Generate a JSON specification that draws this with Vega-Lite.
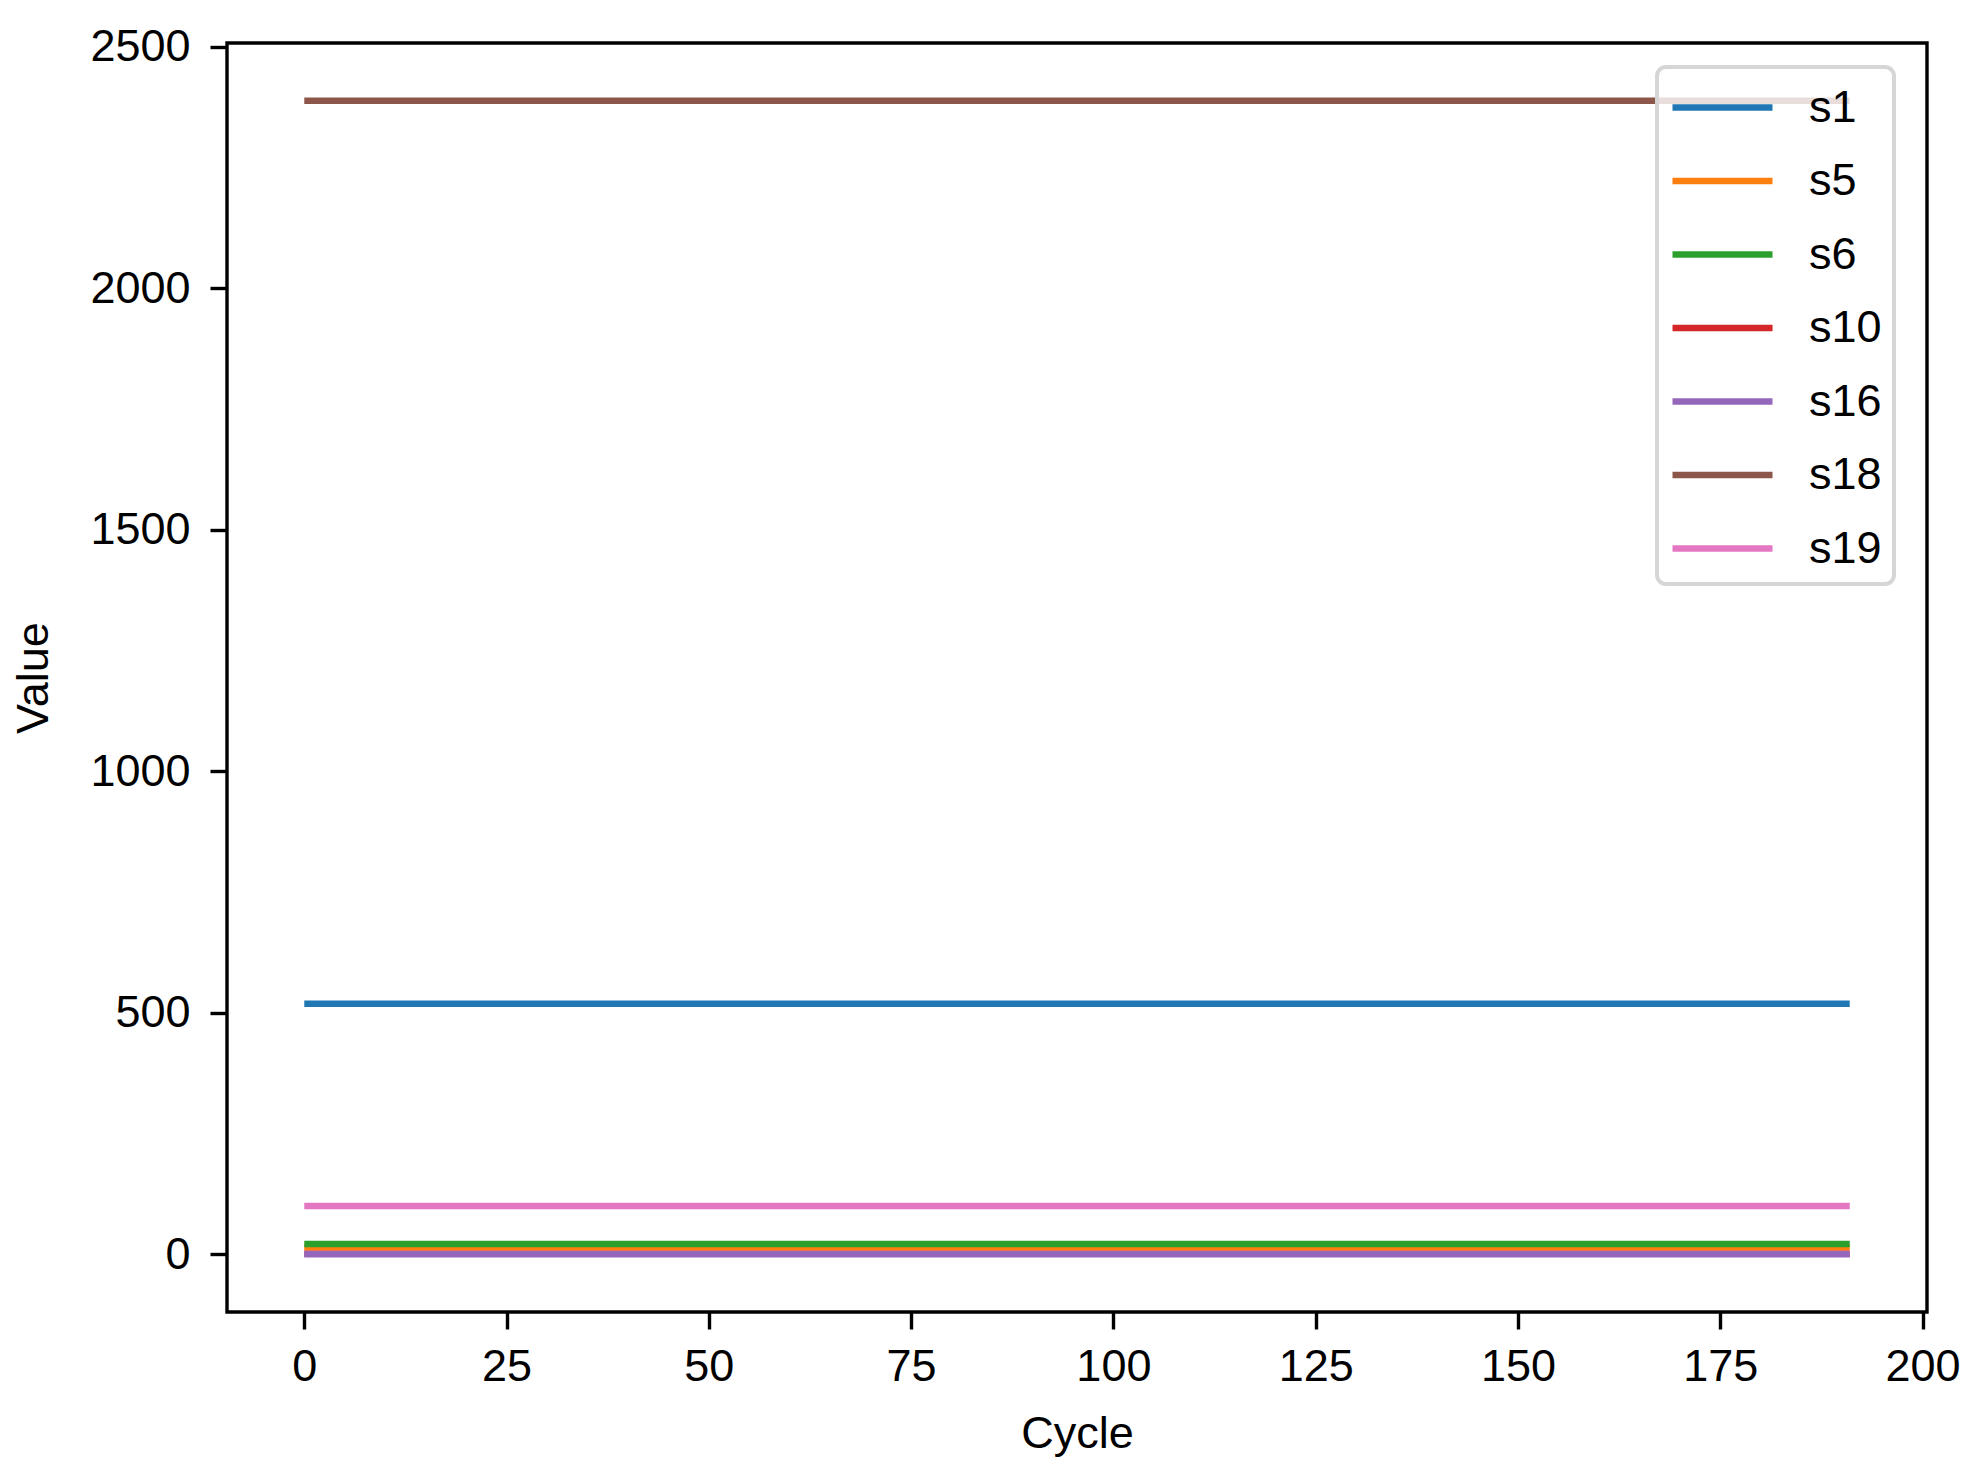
{
  "$schema": "https://vega.github.io/schema/vega-lite/v6.json",
  "width": 1700,
  "height": 1269,
  "autosize": {"type": "none"},
  "padding": {"left": 227, "top": 43, "right": 56, "bottom": 166},
  "background": "white",
  "config": {
    "font": "Liberation Sans",
    "view": {"stroke": "black", "strokeWidth": 3.4},
    "axis": {
      "domain": false,
      "grid": false,
      "ticks": true,
      "tickColor": "black",
      "tickWidth": 3.4,
      "tickSize": 17,
      "labelFont": "Liberation Sans",
      "labelFontSize": 45,
      "labelColor": "black",
      "labelPadding": 14,
      "titleFont": "Liberation Sans",
      "titleFontSize": 45,
      "titleFontWeight": "normal",
      "titleColor": "black"
    },
    "legend": {
      "orient": "none",
      "legendX": 1430,
      "legendY": 24,
      "fillColor": "rgba(255,255,255,0.8)",
      "strokeColor": "#d6d6d6",
      "cornerRadius": 9,
      "padding": 12,
      "symbolType": "M-1,0H3",
      "symbolSize": 2500,
      "symbolStrokeWidth": 6.5,
      "symbolFillColor": "transparent",
      "labelFont": "Liberation Sans",
      "labelFontSize": 45,
      "labelColor": "black",
      "labelOffset": 83,
      "rowPadding": 21.5
    }
  },
  "data": {
    "values": [
      {"c": 0, "s1": 518.67, "s5": 14.62, "s6": 21.61, "s10": 1.3, "s16": 0.03, "s18": 2388, "s19": 100},
      {"c": 1, "s1": 518.67, "s5": 14.62, "s6": 21.61, "s10": 1.3, "s16": 0.03, "s18": 2388, "s19": 100},
      {"c": 2, "s1": 518.67, "s5": 14.62, "s6": 21.61, "s10": 1.3, "s16": 0.03, "s18": 2388, "s19": 100},
      {"c": 3, "s1": 518.67, "s5": 14.62, "s6": 21.61, "s10": 1.3, "s16": 0.03, "s18": 2388, "s19": 100},
      {"c": 4, "s1": 518.67, "s5": 14.62, "s6": 21.61, "s10": 1.3, "s16": 0.03, "s18": 2388, "s19": 100},
      {"c": 5, "s1": 518.67, "s5": 14.62, "s6": 21.61, "s10": 1.3, "s16": 0.03, "s18": 2388, "s19": 100},
      {"c": 6, "s1": 518.67, "s5": 14.62, "s6": 21.61, "s10": 1.3, "s16": 0.03, "s18": 2388, "s19": 100},
      {"c": 7, "s1": 518.67, "s5": 14.62, "s6": 21.61, "s10": 1.3, "s16": 0.03, "s18": 2388, "s19": 100},
      {"c": 8, "s1": 518.67, "s5": 14.62, "s6": 21.61, "s10": 1.3, "s16": 0.03, "s18": 2388, "s19": 100},
      {"c": 9, "s1": 518.67, "s5": 14.62, "s6": 21.61, "s10": 1.3, "s16": 0.03, "s18": 2388, "s19": 100},
      {"c": 10, "s1": 518.67, "s5": 14.62, "s6": 21.61, "s10": 1.3, "s16": 0.03, "s18": 2388, "s19": 100},
      {"c": 11, "s1": 518.67, "s5": 14.62, "s6": 21.61, "s10": 1.3, "s16": 0.03, "s18": 2388, "s19": 100},
      {"c": 12, "s1": 518.67, "s5": 14.62, "s6": 21.61, "s10": 1.3, "s16": 0.03, "s18": 2388, "s19": 100},
      {"c": 13, "s1": 518.67, "s5": 14.62, "s6": 21.61, "s10": 1.3, "s16": 0.03, "s18": 2388, "s19": 100},
      {"c": 14, "s1": 518.67, "s5": 14.62, "s6": 21.61, "s10": 1.3, "s16": 0.03, "s18": 2388, "s19": 100},
      {"c": 15, "s1": 518.67, "s5": 14.62, "s6": 21.61, "s10": 1.3, "s16": 0.03, "s18": 2388, "s19": 100},
      {"c": 16, "s1": 518.67, "s5": 14.62, "s6": 21.61, "s10": 1.3, "s16": 0.03, "s18": 2388, "s19": 100},
      {"c": 17, "s1": 518.67, "s5": 14.62, "s6": 21.61, "s10": 1.3, "s16": 0.03, "s18": 2388, "s19": 100},
      {"c": 18, "s1": 518.67, "s5": 14.62, "s6": 21.61, "s10": 1.3, "s16": 0.03, "s18": 2388, "s19": 100},
      {"c": 19, "s1": 518.67, "s5": 14.62, "s6": 21.61, "s10": 1.3, "s16": 0.03, "s18": 2388, "s19": 100},
      {"c": 20, "s1": 518.67, "s5": 14.62, "s6": 21.61, "s10": 1.3, "s16": 0.03, "s18": 2388, "s19": 100},
      {"c": 21, "s1": 518.67, "s5": 14.62, "s6": 21.61, "s10": 1.3, "s16": 0.03, "s18": 2388, "s19": 100},
      {"c": 22, "s1": 518.67, "s5": 14.62, "s6": 21.61, "s10": 1.3, "s16": 0.03, "s18": 2388, "s19": 100},
      {"c": 23, "s1": 518.67, "s5": 14.62, "s6": 21.61, "s10": 1.3, "s16": 0.03, "s18": 2388, "s19": 100},
      {"c": 24, "s1": 518.67, "s5": 14.62, "s6": 21.61, "s10": 1.3, "s16": 0.03, "s18": 2388, "s19": 100},
      {"c": 25, "s1": 518.67, "s5": 14.62, "s6": 21.61, "s10": 1.3, "s16": 0.03, "s18": 2388, "s19": 100},
      {"c": 26, "s1": 518.67, "s5": 14.62, "s6": 21.61, "s10": 1.3, "s16": 0.03, "s18": 2388, "s19": 100},
      {"c": 27, "s1": 518.67, "s5": 14.62, "s6": 21.61, "s10": 1.3, "s16": 0.03, "s18": 2388, "s19": 100},
      {"c": 28, "s1": 518.67, "s5": 14.62, "s6": 21.61, "s10": 1.3, "s16": 0.03, "s18": 2388, "s19": 100},
      {"c": 29, "s1": 518.67, "s5": 14.62, "s6": 21.61, "s10": 1.3, "s16": 0.03, "s18": 2388, "s19": 100},
      {"c": 30, "s1": 518.67, "s5": 14.62, "s6": 21.61, "s10": 1.3, "s16": 0.03, "s18": 2388, "s19": 100},
      {"c": 31, "s1": 518.67, "s5": 14.62, "s6": 21.61, "s10": 1.3, "s16": 0.03, "s18": 2388, "s19": 100},
      {"c": 32, "s1": 518.67, "s5": 14.62, "s6": 21.61, "s10": 1.3, "s16": 0.03, "s18": 2388, "s19": 100},
      {"c": 33, "s1": 518.67, "s5": 14.62, "s6": 21.61, "s10": 1.3, "s16": 0.03, "s18": 2388, "s19": 100},
      {"c": 34, "s1": 518.67, "s5": 14.62, "s6": 21.61, "s10": 1.3, "s16": 0.03, "s18": 2388, "s19": 100},
      {"c": 35, "s1": 518.67, "s5": 14.62, "s6": 21.61, "s10": 1.3, "s16": 0.03, "s18": 2388, "s19": 100},
      {"c": 36, "s1": 518.67, "s5": 14.62, "s6": 21.61, "s10": 1.3, "s16": 0.03, "s18": 2388, "s19": 100},
      {"c": 37, "s1": 518.67, "s5": 14.62, "s6": 21.61, "s10": 1.3, "s16": 0.03, "s18": 2388, "s19": 100},
      {"c": 38, "s1": 518.67, "s5": 14.62, "s6": 21.61, "s10": 1.3, "s16": 0.03, "s18": 2388, "s19": 100},
      {"c": 39, "s1": 518.67, "s5": 14.62, "s6": 21.61, "s10": 1.3, "s16": 0.03, "s18": 2388, "s19": 100},
      {"c": 40, "s1": 518.67, "s5": 14.62, "s6": 21.61, "s10": 1.3, "s16": 0.03, "s18": 2388, "s19": 100},
      {"c": 41, "s1": 518.67, "s5": 14.62, "s6": 21.61, "s10": 1.3, "s16": 0.03, "s18": 2388, "s19": 100},
      {"c": 42, "s1": 518.67, "s5": 14.62, "s6": 21.61, "s10": 1.3, "s16": 0.03, "s18": 2388, "s19": 100},
      {"c": 43, "s1": 518.67, "s5": 14.62, "s6": 21.61, "s10": 1.3, "s16": 0.03, "s18": 2388, "s19": 100},
      {"c": 44, "s1": 518.67, "s5": 14.62, "s6": 21.61, "s10": 1.3, "s16": 0.03, "s18": 2388, "s19": 100},
      {"c": 45, "s1": 518.67, "s5": 14.62, "s6": 21.61, "s10": 1.3, "s16": 0.03, "s18": 2388, "s19": 100},
      {"c": 46, "s1": 518.67, "s5": 14.62, "s6": 21.61, "s10": 1.3, "s16": 0.03, "s18": 2388, "s19": 100},
      {"c": 47, "s1": 518.67, "s5": 14.62, "s6": 21.61, "s10": 1.3, "s16": 0.03, "s18": 2388, "s19": 100},
      {"c": 48, "s1": 518.67, "s5": 14.62, "s6": 21.61, "s10": 1.3, "s16": 0.03, "s18": 2388, "s19": 100},
      {"c": 49, "s1": 518.67, "s5": 14.62, "s6": 21.61, "s10": 1.3, "s16": 0.03, "s18": 2388, "s19": 100},
      {"c": 50, "s1": 518.67, "s5": 14.62, "s6": 21.61, "s10": 1.3, "s16": 0.03, "s18": 2388, "s19": 100},
      {"c": 51, "s1": 518.67, "s5": 14.62, "s6": 21.61, "s10": 1.3, "s16": 0.03, "s18": 2388, "s19": 100},
      {"c": 52, "s1": 518.67, "s5": 14.62, "s6": 21.61, "s10": 1.3, "s16": 0.03, "s18": 2388, "s19": 100},
      {"c": 53, "s1": 518.67, "s5": 14.62, "s6": 21.61, "s10": 1.3, "s16": 0.03, "s18": 2388, "s19": 100},
      {"c": 54, "s1": 518.67, "s5": 14.62, "s6": 21.61, "s10": 1.3, "s16": 0.03, "s18": 2388, "s19": 100},
      {"c": 55, "s1": 518.67, "s5": 14.62, "s6": 21.61, "s10": 1.3, "s16": 0.03, "s18": 2388, "s19": 100},
      {"c": 56, "s1": 518.67, "s5": 14.62, "s6": 21.61, "s10": 1.3, "s16": 0.03, "s18": 2388, "s19": 100},
      {"c": 57, "s1": 518.67, "s5": 14.62, "s6": 21.61, "s10": 1.3, "s16": 0.03, "s18": 2388, "s19": 100},
      {"c": 58, "s1": 518.67, "s5": 14.62, "s6": 21.61, "s10": 1.3, "s16": 0.03, "s18": 2388, "s19": 100},
      {"c": 59, "s1": 518.67, "s5": 14.62, "s6": 21.61, "s10": 1.3, "s16": 0.03, "s18": 2388, "s19": 100},
      {"c": 60, "s1": 518.67, "s5": 14.62, "s6": 21.61, "s10": 1.3, "s16": 0.03, "s18": 2388, "s19": 100},
      {"c": 61, "s1": 518.67, "s5": 14.62, "s6": 21.61, "s10": 1.3, "s16": 0.03, "s18": 2388, "s19": 100},
      {"c": 62, "s1": 518.67, "s5": 14.62, "s6": 21.61, "s10": 1.3, "s16": 0.03, "s18": 2388, "s19": 100},
      {"c": 63, "s1": 518.67, "s5": 14.62, "s6": 21.61, "s10": 1.3, "s16": 0.03, "s18": 2388, "s19": 100},
      {"c": 64, "s1": 518.67, "s5": 14.62, "s6": 21.61, "s10": 1.3, "s16": 0.03, "s18": 2388, "s19": 100},
      {"c": 65, "s1": 518.67, "s5": 14.62, "s6": 21.61, "s10": 1.3, "s16": 0.03, "s18": 2388, "s19": 100},
      {"c": 66, "s1": 518.67, "s5": 14.62, "s6": 21.61, "s10": 1.3, "s16": 0.03, "s18": 2388, "s19": 100},
      {"c": 67, "s1": 518.67, "s5": 14.62, "s6": 21.61, "s10": 1.3, "s16": 0.03, "s18": 2388, "s19": 100},
      {"c": 68, "s1": 518.67, "s5": 14.62, "s6": 21.61, "s10": 1.3, "s16": 0.03, "s18": 2388, "s19": 100},
      {"c": 69, "s1": 518.67, "s5": 14.62, "s6": 21.61, "s10": 1.3, "s16": 0.03, "s18": 2388, "s19": 100},
      {"c": 70, "s1": 518.67, "s5": 14.62, "s6": 21.61, "s10": 1.3, "s16": 0.03, "s18": 2388, "s19": 100},
      {"c": 71, "s1": 518.67, "s5": 14.62, "s6": 21.61, "s10": 1.3, "s16": 0.03, "s18": 2388, "s19": 100},
      {"c": 72, "s1": 518.67, "s5": 14.62, "s6": 21.61, "s10": 1.3, "s16": 0.03, "s18": 2388, "s19": 100},
      {"c": 73, "s1": 518.67, "s5": 14.62, "s6": 21.61, "s10": 1.3, "s16": 0.03, "s18": 2388, "s19": 100},
      {"c": 74, "s1": 518.67, "s5": 14.62, "s6": 21.61, "s10": 1.3, "s16": 0.03, "s18": 2388, "s19": 100},
      {"c": 75, "s1": 518.67, "s5": 14.62, "s6": 21.61, "s10": 1.3, "s16": 0.03, "s18": 2388, "s19": 100},
      {"c": 76, "s1": 518.67, "s5": 14.62, "s6": 21.61, "s10": 1.3, "s16": 0.03, "s18": 2388, "s19": 100},
      {"c": 77, "s1": 518.67, "s5": 14.62, "s6": 21.61, "s10": 1.3, "s16": 0.03, "s18": 2388, "s19": 100},
      {"c": 78, "s1": 518.67, "s5": 14.62, "s6": 21.61, "s10": 1.3, "s16": 0.03, "s18": 2388, "s19": 100},
      {"c": 79, "s1": 518.67, "s5": 14.62, "s6": 21.61, "s10": 1.3, "s16": 0.03, "s18": 2388, "s19": 100},
      {"c": 80, "s1": 518.67, "s5": 14.62, "s6": 21.61, "s10": 1.3, "s16": 0.03, "s18": 2388, "s19": 100},
      {"c": 81, "s1": 518.67, "s5": 14.62, "s6": 21.61, "s10": 1.3, "s16": 0.03, "s18": 2388, "s19": 100},
      {"c": 82, "s1": 518.67, "s5": 14.62, "s6": 21.61, "s10": 1.3, "s16": 0.03, "s18": 2388, "s19": 100},
      {"c": 83, "s1": 518.67, "s5": 14.62, "s6": 21.61, "s10": 1.3, "s16": 0.03, "s18": 2388, "s19": 100},
      {"c": 84, "s1": 518.67, "s5": 14.62, "s6": 21.61, "s10": 1.3, "s16": 0.03, "s18": 2388, "s19": 100},
      {"c": 85, "s1": 518.67, "s5": 14.62, "s6": 21.61, "s10": 1.3, "s16": 0.03, "s18": 2388, "s19": 100},
      {"c": 86, "s1": 518.67, "s5": 14.62, "s6": 21.61, "s10": 1.3, "s16": 0.03, "s18": 2388, "s19": 100},
      {"c": 87, "s1": 518.67, "s5": 14.62, "s6": 21.61, "s10": 1.3, "s16": 0.03, "s18": 2388, "s19": 100},
      {"c": 88, "s1": 518.67, "s5": 14.62, "s6": 21.61, "s10": 1.3, "s16": 0.03, "s18": 2388, "s19": 100},
      {"c": 89, "s1": 518.67, "s5": 14.62, "s6": 21.61, "s10": 1.3, "s16": 0.03, "s18": 2388, "s19": 100},
      {"c": 90, "s1": 518.67, "s5": 14.62, "s6": 21.61, "s10": 1.3, "s16": 0.03, "s18": 2388, "s19": 100},
      {"c": 91, "s1": 518.67, "s5": 14.62, "s6": 21.61, "s10": 1.3, "s16": 0.03, "s18": 2388, "s19": 100},
      {"c": 92, "s1": 518.67, "s5": 14.62, "s6": 21.61, "s10": 1.3, "s16": 0.03, "s18": 2388, "s19": 100},
      {"c": 93, "s1": 518.67, "s5": 14.62, "s6": 21.61, "s10": 1.3, "s16": 0.03, "s18": 2388, "s19": 100},
      {"c": 94, "s1": 518.67, "s5": 14.62, "s6": 21.61, "s10": 1.3, "s16": 0.03, "s18": 2388, "s19": 100},
      {"c": 95, "s1": 518.67, "s5": 14.62, "s6": 21.61, "s10": 1.3, "s16": 0.03, "s18": 2388, "s19": 100},
      {"c": 96, "s1": 518.67, "s5": 14.62, "s6": 21.61, "s10": 1.3, "s16": 0.03, "s18": 2388, "s19": 100},
      {"c": 97, "s1": 518.67, "s5": 14.62, "s6": 21.61, "s10": 1.3, "s16": 0.03, "s18": 2388, "s19": 100},
      {"c": 98, "s1": 518.67, "s5": 14.62, "s6": 21.61, "s10": 1.3, "s16": 0.03, "s18": 2388, "s19": 100},
      {"c": 99, "s1": 518.67, "s5": 14.62, "s6": 21.61, "s10": 1.3, "s16": 0.03, "s18": 2388, "s19": 100},
      {"c": 100, "s1": 518.67, "s5": 14.62, "s6": 21.61, "s10": 1.3, "s16": 0.03, "s18": 2388, "s19": 100},
      {"c": 101, "s1": 518.67, "s5": 14.62, "s6": 21.61, "s10": 1.3, "s16": 0.03, "s18": 2388, "s19": 100},
      {"c": 102, "s1": 518.67, "s5": 14.62, "s6": 21.61, "s10": 1.3, "s16": 0.03, "s18": 2388, "s19": 100},
      {"c": 103, "s1": 518.67, "s5": 14.62, "s6": 21.61, "s10": 1.3, "s16": 0.03, "s18": 2388, "s19": 100},
      {"c": 104, "s1": 518.67, "s5": 14.62, "s6": 21.61, "s10": 1.3, "s16": 0.03, "s18": 2388, "s19": 100},
      {"c": 105, "s1": 518.67, "s5": 14.62, "s6": 21.61, "s10": 1.3, "s16": 0.03, "s18": 2388, "s19": 100},
      {"c": 106, "s1": 518.67, "s5": 14.62, "s6": 21.61, "s10": 1.3, "s16": 0.03, "s18": 2388, "s19": 100},
      {"c": 107, "s1": 518.67, "s5": 14.62, "s6": 21.61, "s10": 1.3, "s16": 0.03, "s18": 2388, "s19": 100},
      {"c": 108, "s1": 518.67, "s5": 14.62, "s6": 21.61, "s10": 1.3, "s16": 0.03, "s18": 2388, "s19": 100},
      {"c": 109, "s1": 518.67, "s5": 14.62, "s6": 21.61, "s10": 1.3, "s16": 0.03, "s18": 2388, "s19": 100},
      {"c": 110, "s1": 518.67, "s5": 14.62, "s6": 21.61, "s10": 1.3, "s16": 0.03, "s18": 2388, "s19": 100},
      {"c": 111, "s1": 518.67, "s5": 14.62, "s6": 21.61, "s10": 1.3, "s16": 0.03, "s18": 2388, "s19": 100},
      {"c": 112, "s1": 518.67, "s5": 14.62, "s6": 21.61, "s10": 1.3, "s16": 0.03, "s18": 2388, "s19": 100},
      {"c": 113, "s1": 518.67, "s5": 14.62, "s6": 21.61, "s10": 1.3, "s16": 0.03, "s18": 2388, "s19": 100},
      {"c": 114, "s1": 518.67, "s5": 14.62, "s6": 21.61, "s10": 1.3, "s16": 0.03, "s18": 2388, "s19": 100},
      {"c": 115, "s1": 518.67, "s5": 14.62, "s6": 21.61, "s10": 1.3, "s16": 0.03, "s18": 2388, "s19": 100},
      {"c": 116, "s1": 518.67, "s5": 14.62, "s6": 21.61, "s10": 1.3, "s16": 0.03, "s18": 2388, "s19": 100},
      {"c": 117, "s1": 518.67, "s5": 14.62, "s6": 21.61, "s10": 1.3, "s16": 0.03, "s18": 2388, "s19": 100},
      {"c": 118, "s1": 518.67, "s5": 14.62, "s6": 21.61, "s10": 1.3, "s16": 0.03, "s18": 2388, "s19": 100},
      {"c": 119, "s1": 518.67, "s5": 14.62, "s6": 21.61, "s10": 1.3, "s16": 0.03, "s18": 2388, "s19": 100},
      {"c": 120, "s1": 518.67, "s5": 14.62, "s6": 21.61, "s10": 1.3, "s16": 0.03, "s18": 2388, "s19": 100},
      {"c": 121, "s1": 518.67, "s5": 14.62, "s6": 21.61, "s10": 1.3, "s16": 0.03, "s18": 2388, "s19": 100},
      {"c": 122, "s1": 518.67, "s5": 14.62, "s6": 21.61, "s10": 1.3, "s16": 0.03, "s18": 2388, "s19": 100},
      {"c": 123, "s1": 518.67, "s5": 14.62, "s6": 21.61, "s10": 1.3, "s16": 0.03, "s18": 2388, "s19": 100},
      {"c": 124, "s1": 518.67, "s5": 14.62, "s6": 21.61, "s10": 1.3, "s16": 0.03, "s18": 2388, "s19": 100},
      {"c": 125, "s1": 518.67, "s5": 14.62, "s6": 21.61, "s10": 1.3, "s16": 0.03, "s18": 2388, "s19": 100},
      {"c": 126, "s1": 518.67, "s5": 14.62, "s6": 21.61, "s10": 1.3, "s16": 0.03, "s18": 2388, "s19": 100},
      {"c": 127, "s1": 518.67, "s5": 14.62, "s6": 21.61, "s10": 1.3, "s16": 0.03, "s18": 2388, "s19": 100},
      {"c": 128, "s1": 518.67, "s5": 14.62, "s6": 21.61, "s10": 1.3, "s16": 0.03, "s18": 2388, "s19": 100},
      {"c": 129, "s1": 518.67, "s5": 14.62, "s6": 21.61, "s10": 1.3, "s16": 0.03, "s18": 2388, "s19": 100},
      {"c": 130, "s1": 518.67, "s5": 14.62, "s6": 21.61, "s10": 1.3, "s16": 0.03, "s18": 2388, "s19": 100},
      {"c": 131, "s1": 518.67, "s5": 14.62, "s6": 21.61, "s10": 1.3, "s16": 0.03, "s18": 2388, "s19": 100},
      {"c": 132, "s1": 518.67, "s5": 14.62, "s6": 21.61, "s10": 1.3, "s16": 0.03, "s18": 2388, "s19": 100},
      {"c": 133, "s1": 518.67, "s5": 14.62, "s6": 21.61, "s10": 1.3, "s16": 0.03, "s18": 2388, "s19": 100},
      {"c": 134, "s1": 518.67, "s5": 14.62, "s6": 21.61, "s10": 1.3, "s16": 0.03, "s18": 2388, "s19": 100},
      {"c": 135, "s1": 518.67, "s5": 14.62, "s6": 21.61, "s10": 1.3, "s16": 0.03, "s18": 2388, "s19": 100},
      {"c": 136, "s1": 518.67, "s5": 14.62, "s6": 21.61, "s10": 1.3, "s16": 0.03, "s18": 2388, "s19": 100},
      {"c": 137, "s1": 518.67, "s5": 14.62, "s6": 21.61, "s10": 1.3, "s16": 0.03, "s18": 2388, "s19": 100},
      {"c": 138, "s1": 518.67, "s5": 14.62, "s6": 21.61, "s10": 1.3, "s16": 0.03, "s18": 2388, "s19": 100},
      {"c": 139, "s1": 518.67, "s5": 14.62, "s6": 21.61, "s10": 1.3, "s16": 0.03, "s18": 2388, "s19": 100},
      {"c": 140, "s1": 518.67, "s5": 14.62, "s6": 21.61, "s10": 1.3, "s16": 0.03, "s18": 2388, "s19": 100},
      {"c": 141, "s1": 518.67, "s5": 14.62, "s6": 21.61, "s10": 1.3, "s16": 0.03, "s18": 2388, "s19": 100},
      {"c": 142, "s1": 518.67, "s5": 14.62, "s6": 21.61, "s10": 1.3, "s16": 0.03, "s18": 2388, "s19": 100},
      {"c": 143, "s1": 518.67, "s5": 14.62, "s6": 21.61, "s10": 1.3, "s16": 0.03, "s18": 2388, "s19": 100},
      {"c": 144, "s1": 518.67, "s5": 14.62, "s6": 21.61, "s10": 1.3, "s16": 0.03, "s18": 2388, "s19": 100},
      {"c": 145, "s1": 518.67, "s5": 14.62, "s6": 21.61, "s10": 1.3, "s16": 0.03, "s18": 2388, "s19": 100},
      {"c": 146, "s1": 518.67, "s5": 14.62, "s6": 21.61, "s10": 1.3, "s16": 0.03, "s18": 2388, "s19": 100},
      {"c": 147, "s1": 518.67, "s5": 14.62, "s6": 21.61, "s10": 1.3, "s16": 0.03, "s18": 2388, "s19": 100},
      {"c": 148, "s1": 518.67, "s5": 14.62, "s6": 21.61, "s10": 1.3, "s16": 0.03, "s18": 2388, "s19": 100},
      {"c": 149, "s1": 518.67, "s5": 14.62, "s6": 21.61, "s10": 1.3, "s16": 0.03, "s18": 2388, "s19": 100},
      {"c": 150, "s1": 518.67, "s5": 14.62, "s6": 21.61, "s10": 1.3, "s16": 0.03, "s18": 2388, "s19": 100},
      {"c": 151, "s1": 518.67, "s5": 14.62, "s6": 21.61, "s10": 1.3, "s16": 0.03, "s18": 2388, "s19": 100},
      {"c": 152, "s1": 518.67, "s5": 14.62, "s6": 21.61, "s10": 1.3, "s16": 0.03, "s18": 2388, "s19": 100},
      {"c": 153, "s1": 518.67, "s5": 14.62, "s6": 21.61, "s10": 1.3, "s16": 0.03, "s18": 2388, "s19": 100},
      {"c": 154, "s1": 518.67, "s5": 14.62, "s6": 21.61, "s10": 1.3, "s16": 0.03, "s18": 2388, "s19": 100},
      {"c": 155, "s1": 518.67, "s5": 14.62, "s6": 21.61, "s10": 1.3, "s16": 0.03, "s18": 2388, "s19": 100},
      {"c": 156, "s1": 518.67, "s5": 14.62, "s6": 21.61, "s10": 1.3, "s16": 0.03, "s18": 2388, "s19": 100},
      {"c": 157, "s1": 518.67, "s5": 14.62, "s6": 21.61, "s10": 1.3, "s16": 0.03, "s18": 2388, "s19": 100},
      {"c": 158, "s1": 518.67, "s5": 14.62, "s6": 21.61, "s10": 1.3, "s16": 0.03, "s18": 2388, "s19": 100},
      {"c": 159, "s1": 518.67, "s5": 14.62, "s6": 21.61, "s10": 1.3, "s16": 0.03, "s18": 2388, "s19": 100},
      {"c": 160, "s1": 518.67, "s5": 14.62, "s6": 21.61, "s10": 1.3, "s16": 0.03, "s18": 2388, "s19": 100},
      {"c": 161, "s1": 518.67, "s5": 14.62, "s6": 21.61, "s10": 1.3, "s16": 0.03, "s18": 2388, "s19": 100},
      {"c": 162, "s1": 518.67, "s5": 14.62, "s6": 21.61, "s10": 1.3, "s16": 0.03, "s18": 2388, "s19": 100},
      {"c": 163, "s1": 518.67, "s5": 14.62, "s6": 21.61, "s10": 1.3, "s16": 0.03, "s18": 2388, "s19": 100},
      {"c": 164, "s1": 518.67, "s5": 14.62, "s6": 21.61, "s10": 1.3, "s16": 0.03, "s18": 2388, "s19": 100},
      {"c": 165, "s1": 518.67, "s5": 14.62, "s6": 21.61, "s10": 1.3, "s16": 0.03, "s18": 2388, "s19": 100},
      {"c": 166, "s1": 518.67, "s5": 14.62, "s6": 21.61, "s10": 1.3, "s16": 0.03, "s18": 2388, "s19": 100},
      {"c": 167, "s1": 518.67, "s5": 14.62, "s6": 21.61, "s10": 1.3, "s16": 0.03, "s18": 2388, "s19": 100},
      {"c": 168, "s1": 518.67, "s5": 14.62, "s6": 21.61, "s10": 1.3, "s16": 0.03, "s18": 2388, "s19": 100},
      {"c": 169, "s1": 518.67, "s5": 14.62, "s6": 21.61, "s10": 1.3, "s16": 0.03, "s18": 2388, "s19": 100},
      {"c": 170, "s1": 518.67, "s5": 14.62, "s6": 21.61, "s10": 1.3, "s16": 0.03, "s18": 2388, "s19": 100},
      {"c": 171, "s1": 518.67, "s5": 14.62, "s6": 21.61, "s10": 1.3, "s16": 0.03, "s18": 2388, "s19": 100},
      {"c": 172, "s1": 518.67, "s5": 14.62, "s6": 21.61, "s10": 1.3, "s16": 0.03, "s18": 2388, "s19": 100},
      {"c": 173, "s1": 518.67, "s5": 14.62, "s6": 21.61, "s10": 1.3, "s16": 0.03, "s18": 2388, "s19": 100},
      {"c": 174, "s1": 518.67, "s5": 14.62, "s6": 21.61, "s10": 1.3, "s16": 0.03, "s18": 2388, "s19": 100},
      {"c": 175, "s1": 518.67, "s5": 14.62, "s6": 21.61, "s10": 1.3, "s16": 0.03, "s18": 2388, "s19": 100},
      {"c": 176, "s1": 518.67, "s5": 14.62, "s6": 21.61, "s10": 1.3, "s16": 0.03, "s18": 2388, "s19": 100},
      {"c": 177, "s1": 518.67, "s5": 14.62, "s6": 21.61, "s10": 1.3, "s16": 0.03, "s18": 2388, "s19": 100},
      {"c": 178, "s1": 518.67, "s5": 14.62, "s6": 21.61, "s10": 1.3, "s16": 0.03, "s18": 2388, "s19": 100},
      {"c": 179, "s1": 518.67, "s5": 14.62, "s6": 21.61, "s10": 1.3, "s16": 0.03, "s18": 2388, "s19": 100},
      {"c": 180, "s1": 518.67, "s5": 14.62, "s6": 21.61, "s10": 1.3, "s16": 0.03, "s18": 2388, "s19": 100},
      {"c": 181, "s1": 518.67, "s5": 14.62, "s6": 21.61, "s10": 1.3, "s16": 0.03, "s18": 2388, "s19": 100},
      {"c": 182, "s1": 518.67, "s5": 14.62, "s6": 21.61, "s10": 1.3, "s16": 0.03, "s18": 2388, "s19": 100},
      {"c": 183, "s1": 518.67, "s5": 14.62, "s6": 21.61, "s10": 1.3, "s16": 0.03, "s18": 2388, "s19": 100},
      {"c": 184, "s1": 518.67, "s5": 14.62, "s6": 21.61, "s10": 1.3, "s16": 0.03, "s18": 2388, "s19": 100},
      {"c": 185, "s1": 518.67, "s5": 14.62, "s6": 21.61, "s10": 1.3, "s16": 0.03, "s18": 2388, "s19": 100},
      {"c": 186, "s1": 518.67, "s5": 14.62, "s6": 21.61, "s10": 1.3, "s16": 0.03, "s18": 2388, "s19": 100},
      {"c": 187, "s1": 518.67, "s5": 14.62, "s6": 21.61, "s10": 1.3, "s16": 0.03, "s18": 2388, "s19": 100},
      {"c": 188, "s1": 518.67, "s5": 14.62, "s6": 21.61, "s10": 1.3, "s16": 0.03, "s18": 2388, "s19": 100},
      {"c": 189, "s1": 518.67, "s5": 14.62, "s6": 21.61, "s10": 1.3, "s16": 0.03, "s18": 2388, "s19": 100},
      {"c": 190, "s1": 518.67, "s5": 14.62, "s6": 21.61, "s10": 1.3, "s16": 0.03, "s18": 2388, "s19": 100},
      {"c": 191, "s1": 518.67, "s5": 14.62, "s6": 21.61, "s10": 1.3, "s16": 0.03, "s18": 2388, "s19": 100}
    ]
  },
  "transform": [
    {"fold": ["s1", "s5", "s6", "s10", "s16", "s18", "s19"], "as": ["sensor", "value"]}
  ],
  "mark": {"type": "line", "strokeWidth": 6.5, "clip": true},
  "encoding": {
    "x": {
      "field": "c",
      "type": "quantitative",
      "title": "Cycle",
      "scale": {"domain": [-9.55, 200.55], "nice": false, "zero": false},
      "axis": {"values": [0, 25, 50, 75, 100, 125, 150, 175, 200], "format": "d", "labelPadding": 15, "titlePadding": 22}
    },
    "y": {
      "field": "value",
      "type": "quantitative",
      "title": "Value",
      "scale": {"domain": [-119.4, 2507.4], "nice": false, "zero": false},
      "axis": {"values": [0, 500, 1000, 1500, 2000, 2500], "format": "d", "labelPadding": 20, "titlePadding": 33}
    },
    "color": {
      "field": "sensor",
      "type": "nominal",
      "title": null,
      "sort": ["s1", "s5", "s6", "s10", "s16", "s18", "s19"],
      "scale": {
        "domain": ["s1", "s5", "s6", "s10", "s16", "s18", "s19"],
        "range": ["#1f77b4", "#ff7f0e", "#2ca02c", "#d62728", "#9467bd", "#8c564b", "#e377c2"]
      },
      "legend": {
        "encode": {"legend": {"update": {"strokeWidth": {"value": 4}}}}
      }
    }
  }
}
